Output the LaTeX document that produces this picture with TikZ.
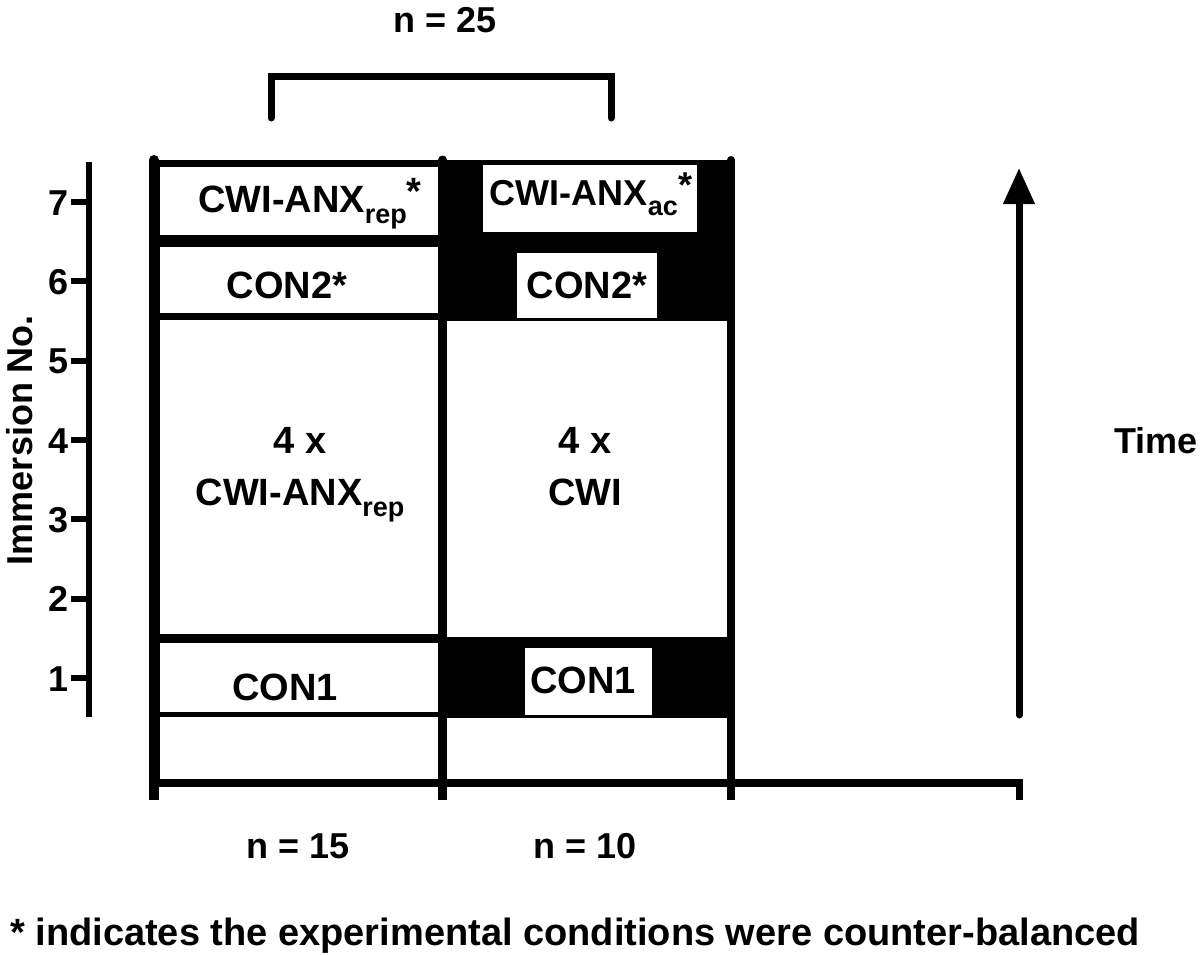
\documentclass[tikz,border=0pt]{standalone}
\usepackage{fontspec}
\setmainfont{Liberation Sans}
\usetikzlibrary{arrows.meta}
\newcommand{\subtx}[1]{\raisebox{-0.3em}{\fontsize{27}{27}\selectfont\bfseries #1}}
\newcommand{\hiast}{\raisebox{0.2em}{*}}
\begin{document}
\begin{tikzpicture}[x=1pt,y=-1pt,
  lbl/.style={font=\fontsize{36}{36}\selectfont\bfseries, inner sep=0pt},
  blbl/.style={font=\fontsize{38}{38}\selectfont\bfseries, inner sep=0pt, anchor=base},
  wbox/.style={fill=white, draw=none, inner sep=0pt, outer sep=0pt, anchor=north west},
  axisline/.style={line width=6pt},
  colline/.style={line width=#1, line cap=butt},
]
\useasboundingbox[fill=white] (0,0) rectangle (1200,954);

% black background of the two columns
\fill[black] (149,160) rectangle (735,787);

% left column white cells
\node[wbox, minimum width=278pt, minimum height=68pt] (L7) at (160,167) {};
\node[wbox, minimum width=278pt, minimum height=66pt] (L6) at (160,247) {};
\node[wbox, minimum width=278pt, minimum height=314pt] (L25) at (160,320) {};
\node[wbox, minimum width=278pt, minimum height=69pt] (L1) at (160,643) {};
\node[wbox, minimum width=278pt, minimum height=62pt] (L0) at (160,717) {};

% right column white cells
\node[wbox, minimum width=214pt, minimum height=67pt] (R7) at (483,165) {};
\node[wbox, minimum width=140pt, minimum height=65pt] (R6) at (517,253) {};
\node[wbox, minimum width=280pt, minimum height=316pt] (R25) at (447,321) {};
\node[wbox, minimum width=127pt, minimum height=67pt] (R1) at (525,648) {};
\node[wbox, minimum width=280pt, minimum height=62pt] (R0) at (447,718) {};

% column edges with rounded tops
\draw[colline=10pt] (154,160) -- (154,800);
\fill (154,160) circle (5pt);
\draw[colline=9pt] (442.5,160) -- (442.5,800);
\fill (442.5,160) circle (4.5pt);
\draw[colline=8pt] (731,160) -- (731,800);
\fill (731,160) circle (4pt);

% x axis
\coordinate (xa0) at (149,783);
\coordinate (xa1) at (1023,783);
\coordinate (xt1) at (1019,800);
\draw[line width=8pt] (xa0) -- (xa1);
\draw[line width=7pt] (1019,783) -- (xt1);

% y axis
\coordinate (ya0) at (89,162);
\coordinate (ya1) at (89,717);
\draw[axisline] (ya0) -- (ya1);
\foreach \k in {1,...,7}{
  \pgfmathsetmacro{\yy}{678-(\k-1)*79.33}
  \draw[axisline] (71,\yy) -- (89,\yy);
  \node[lbl, anchor=base east] (t\k) at (69,\yy+13) {\k};
}
\node[lbl, rotate=90] (ylab) at (20,440) {Immersion No.};

% labels in cells
\node[blbl] (tL7) at (310,212) {CWI-ANX\subtx{rep}\hiast};
\node[blbl] (tL6) at (287,298) {CON2*};
\node[blbl, align=center] (tL25) at (300,505) {4 x\\[14pt]CWI-ANX\subtx{rep}};
\node[blbl] (tL1) at (285,700) {CON1};
\node[lbl, anchor=base] (tR7) at (591,205) {CWI-ANX\subtx{ac}\hiast};
\node[blbl] (tR6) at (587,298) {CON2*};
\node[blbl, align=center] (tR25) at (585,505) {4 x\\[14pt]CWI};
\node[blbl] (tR1) at (583,693) {CON1};

% time arrow
\coordinate (ta0) at (1019,715);
\coordinate (ta1) at (1019,168);
\draw[line width=7pt, line cap=round, -{Triangle[length=36pt, width=30pt]}] (ta0) -- (ta1);
\node[lbl, anchor=base] (time) at (1156,453) {Time};

% bracket n = 25
\coordinate (b0) at (271,118);
\coordinate (b1) at (611,118);
\draw[line width=7pt, line cap=round, line join=miter] (b0) -- (271,76.5) -- (611,76.5) -- (b1);
\node[lbl, anchor=base] (n25) at (445,32) {n = 25};

% group sizes
\node[lbl, anchor=base] (n15) at (298,858) {n = 15};
\node[lbl, anchor=base] (n10) at (585,858) {n = 10};

% footnote
\node[lbl, font=\fontsize{38}{38}\selectfont\bfseries, anchor=base] (foot) at (575,945) {* indicates the experimental conditions were counter-balanced};
\end{tikzpicture}
\end{document}
